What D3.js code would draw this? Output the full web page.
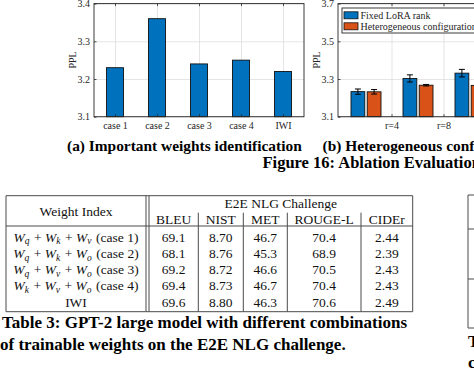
<!DOCTYPE html>
<html><head><meta charset="utf-8">
<script src="https://cdn.jsdelivr.net/npm/d3@7"></script>
<style>body{margin:0;background:#fff}svg{display:block;background:#fff}</style>
</head><body><svg id="c" width="474" height="369"></svg>
<script>
// ---------- data ----------
const casesA = ["case 1", "case 2", "case 3", "case 4", "IWI"];
const pplA = [3.23, 3.36, 3.24, 3.25, 3.22];
const yTicksA = [3.1, 3.2, 3.3, 3.4];

const ranksB = ["r=4", "r=8", "r=16"];
const seriesB = ["Fixed LoRA rank", "Heterogeneous configuration"];
const fixedPPL = [3.233, 3.303, 3.331];
const fixedErr = [0.014, 0.019, 0.02];
const heteroPPL = [3.232, 3.267, 3.266];
const heteroErr = [0.012, 0.004, 0.004];
const yTicksB = [3.1, 3.3, 3.5, 3.7];

const tableCols = ["BLEU", "NIST", "MET", "ROUGE-L", "CIDEr"];
const rowWeights = [["q","k","v"], ["q","k","o"], ["q","v","o"], ["k","v","o"], null];
const rowCase = ["(case 1)", "(case 2)", "(case 3)", "(case 4)", "IWI"];
const bleu = [69.1, 68.1, 69.2, 69.4, 69.6];
const nist = [8.70, 8.76, 8.72, 8.73, 8.80];
const met = [46.7, 45.3, 46.6, 46.7, 46.3];
const rouge = [70.4, 68.9, 70.5, 70.4, 70.6];
const cider = [2.44, 2.39, 2.43, 2.43, 2.49];

// ---------- setup ----------
const svg = d3.select("#c");
const SERIF = "'Liberation Serif','Times New Roman',serif";
const AX = "#262626";
const GRID = "#dedede";
const BLUE = "#0072BD", ORANGE = "#D95319";

function styleAxis(g) {
  g.select(".domain").remove();
  g.selectAll("line").attr("stroke", AX).attr("stroke-width", 0.8);
  g.selectAll("text").attr("fill", AX).style("font-family", SERIF).style("font-size", "10px");
}

// ---------- chart (a) ----------
const A = {l: 94, r: 304, t: 3.6, b: 116.7};
const xA = d3.scalePoint().domain(casesA).range([A.l, A.r]).padding(0.5);
const yA = d3.scaleLinear().domain([3.1, 3.4]).range([A.b, A.t]);
const gA = svg.append("g");

gA.append("g").attr("transform", `translate(${A.l},0)`)
  .call(d3.axisLeft(yA).tickValues(yTicksA).tickSize(-(A.r - A.l)).tickFormat(""))
  .call(g => { g.select(".domain").remove(); g.selectAll("line").attr("stroke", GRID).attr("stroke-width", 0.8); });
gA.append("g").attr("transform", `translate(0,${A.b})`)
  .call(d3.axisBottom(xA).tickSize(-(A.b - A.t)).tickFormat(""))
  .call(g => { g.select(".domain").remove(); g.selectAll("line").attr("stroke", GRID).attr("stroke-width", 0.8); });

const bwA = 17;
gA.selectAll("rect.bar").data(casesA).join("rect")
  .attr("x", d => xA(d) - bwA / 2)
  .attr("y", (d, i) => yA(pplA[i]))
  .attr("width", bwA)
  .attr("height", (d, i) => yA(3.1) - yA(pplA[i]))
  .attr("fill", BLUE).attr("stroke", "#111").attr("stroke-width", 0.9);

gA.append("g").attr("transform", `translate(${A.l},0)`)
  .call(d3.axisLeft(yA).tickValues(yTicksA).tickSize(-2.5).tickPadding(4).tickFormat(d3.format(".1f")))
  .call(styleAxis);
gA.append("g").attr("transform", `translate(0,${A.b})`)
  .call(d3.axisBottom(xA).tickSize(-2.5).tickPadding(5))
  .call(styleAxis);
gA.append("g").attr("transform", `translate(0,${A.t})`)
  .call(d3.axisBottom(xA).tickSize(2.5).tickFormat(""))
  .call(styleAxis);
gA.append("rect").attr("x", A.l).attr("y", A.t).attr("width", A.r - A.l).attr("height", A.b - A.t)
  .attr("fill", "none").attr("stroke", AX).attr("stroke-width", 0.9);
gA.append("text").attr("transform", `translate(75.5,60) rotate(-90)`)
  .attr("text-anchor", "middle").attr("fill", AX)
  .style("font-family", SERIF).style("font-size", "10px").text("PPL");

// ---------- chart (b) ----------
const B = {l: 338, r: 500, t: 3.6, b: 116.7};
const xB = d3.scaleBand().domain(ranksB).range([340, 496]);
const xSub = d3.scaleBand().domain(seriesB).range([-15, 15]).paddingInner(0.15);
const yB = d3.scaleLinear().domain([3.1, 3.7]).range([B.b, B.t]);
const gB = svg.append("g");

gB.append("g").attr("transform", `translate(${B.l},0)`)
  .call(d3.axisLeft(yB).tickValues(yTicksB).tickSize(-(B.r - B.l)).tickFormat(""))
  .call(g => { g.select(".domain").remove(); g.selectAll("line").attr("stroke", GRID).attr("stroke-width", 0.8); });
gB.append("g").attr("transform", `translate(${xB.bandwidth()/2},${B.b})`)
  .call(d3.axisBottom(xB).tickSize(-(B.b - B.t)).tickFormat(""))
  .call(g => { g.select(".domain").remove(); g.selectAll("line").attr("stroke", GRID).attr("stroke-width", 0.8); });

const seriesData = [
  {name: seriesB[0], vals: fixedPPL, errs: fixedErr, color: BLUE},
  {name: seriesB[1], vals: heteroPPL, errs: heteroErr, color: ORANGE}
];
seriesData.forEach(s => {
  const g = gB.append("g");
  ranksB.forEach((r, i) => {
    const cx = xB(r) + xB.bandwidth() / 2;
    const x0 = cx + xSub(s.name);
    g.append("rect").attr("x", x0).attr("y", yB(s.vals[i]))
      .attr("width", xSub.bandwidth()).attr("height", yB(3.1) - yB(s.vals[i]))
      .attr("fill", s.color).attr("stroke", "#111").attr("stroke-width", 0.9);
    const ex = x0 + xSub.bandwidth() / 2;
    const y1 = yB(s.vals[i] + s.errs[i]), y2 = yB(s.vals[i] - s.errs[i]);
    g.append("line").attr("x1", ex).attr("x2", ex).attr("y1", y1).attr("y2", y2).attr("stroke", "#000").attr("stroke-width", 1);
    [y1, y2].forEach(yy => g.append("line").attr("x1", ex - 3).attr("x2", ex + 3).attr("y1", yy).attr("y2", yy).attr("stroke", "#000").attr("stroke-width", 1));
  });
});

gB.append("g").attr("transform", `translate(${B.l},0)`)
  .call(d3.axisLeft(yB).tickValues(yTicksB).tickSize(-2.5).tickPadding(4).tickFormat(d3.format(".1f")))
  .call(styleAxis);
gB.append("g").attr("transform", `translate(${xB.bandwidth()/2},${B.b})`)
  .call(d3.axisBottom(xB).tickSize(-2.5).tickPadding(5))
  .call(styleAxis);
gB.append("g").attr("transform", `translate(${xB.bandwidth()/2},${B.t})`)
  .call(d3.axisBottom(xB).tickSize(2.5).tickFormat(""))
  .call(styleAxis);
gB.append("rect").attr("x", B.l).attr("y", B.t).attr("width", B.r - B.l).attr("height", B.b - B.t)
  .attr("fill", "none").attr("stroke", AX).attr("stroke-width", 0.9);
gB.append("text").attr("transform", `translate(320,60) rotate(-90)`)
  .attr("text-anchor", "middle").attr("fill", AX)
  .style("font-family", SERIF).style("font-size", "10px").text("PPL");

// legend
const lg = gB.append("g");
lg.append("rect").attr("x", 342).attr("y", 8).attr("width", 160).attr("height", 25)
  .attr("fill", "#fff").attr("stroke", AX).attr("stroke-width", 0.9);
seriesData.forEach((s, i) => {
  const yy = 11.8 + i * 11;
  lg.append("rect").attr("x", 344).attr("y", yy).attr("width", 14).attr("height", 7)
    .attr("fill", s.color).attr("stroke", "#111").attr("stroke-width", 0.8);
  lg.append("text").attr("x", 360.5).attr("y", yy + 7).attr("fill", AX)
    .style("font-family", SERIF).style("font-size", "10px").text(s.name);
});

// ---------- captions ----------
function cap(x, y, size, txt, weight = "bold", anchor = "start") {
  svg.append("text").attr("x", x).attr("y", y).attr("text-anchor", anchor)
    .style("font-family", SERIF).style("font-size", size + "px").style("font-weight", weight)
    .attr("fill", "#000").text(txt);
}
cap(67, 151, 15.4, "(a) Important weights identification");
cap(322.5, 151, 15.4, "(b) Heterogeneous configuration");
cap(262.5, 168, 16.5, "Figure 16: Ablation Evaluation");
cap(2, 328, 17, "Table 3: GPT-2 large model with different combinations");
cap(0, 350, 17, "of trainable weights on the E2E NLG challenge.");
cap(468, 346.5, 17, "Table 4");
cap(468, 368, 17, "comparison");

// ---------- table ----------
const T = {l: 6, r: 412.7, t: 195.7, hb: 226, b: 311.7};
const colEdges = [149, 198.3, 243.3, 287.3, 361, T.r];
const colData = [bleu, nist, met, rouge, cider];
const colFmt = [d3.format(".1f"), d3.format(".2f"), d3.format(".1f"), d3.format(".1f"), d3.format(".2f")];
const rowBase = d3.scaleLinear().domain([0, 4]).range([241.5, 306.7]);
const tg = svg.append("g");
const LC = "#4a4a4a";
function ln(x1, y1, x2, y2) {
  tg.append("line").attr("x1", x1).attr("y1", y1).attr("x2", x2).attr("y2", y2)
    .attr("stroke", LC).attr("stroke-width", 1);
}
ln(T.l, T.t, T.r, T.t);
ln(T.l, T.hb, T.r, T.hb);
ln(T.l, T.b, T.r, T.b);
ln(T.l, T.t, T.l, T.b);
ln(T.r, T.t, T.r, T.b);
ln(146, T.t, 146, T.b);
ln(149, T.t, 149, T.b);
colEdges.slice(1, 5).forEach(x => ln(x, 212.7, x, T.b));

function tt(x, y, txt, anchor = "middle") {
  const t = tg.append("text").attr("x", x).attr("y", y).attr("text-anchor", anchor)
    .style("font-family", SERIF).style("font-size", "13.5px").attr("fill", "#111");
  if (txt != null) t.text(txt);
  return t;
}
tt((T.l + 146) / 2, 216, "Weight Index");
tt((149 + T.r) / 2, 208, "E2E NLG Challenge");
tableCols.forEach((c, i) => tt((colEdges[i] + colEdges[i + 1]) / 2, 224.3, c));
colData.forEach((arr, j) => arr.forEach((v, i) =>
  tt((colEdges[j] + colEdges[j + 1]) / 2, rowBase(i), colFmt[j](v))));

rowCase.forEach((c, i) => {
  const t = tt((T.l + 146) / 2, rowBase(i), null);
  const w = rowWeights[i];
  if (!w) { t.text(c); return; }
  w.forEach((s, k) => {
    if (k) t.append("tspan").text(" + ");
    t.append("tspan").style("font-style", "italic").text("W");
    t.append("tspan").style("font-style", "italic").style("font-size", "9.5px").attr("dy", 2.8).text(s);
    t.append("tspan").attr("dy", -2.8).text("\u200A");
  });
  t.append("tspan").text(" " + c);
});

// partial table on the right
ln(468, 195, 474, 195);
ln(468, 229, 474, 229);
ln(468, 279, 474, 279);
ln(468, 328, 474, 328);
ln(468, 195, 468, 328);
</script></body></html>
